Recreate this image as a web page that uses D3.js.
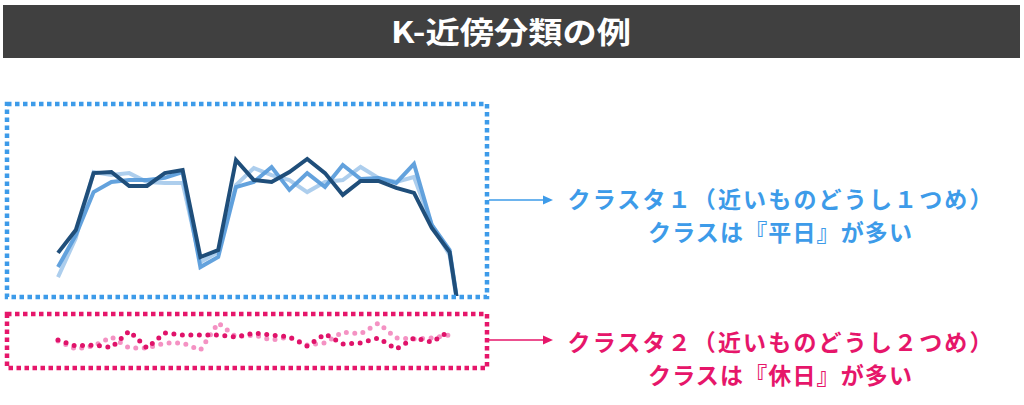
<!DOCTYPE html>
<html>
<head>
<meta charset="utf-8">
<title>K-近傍分類の例</title>
<script src="https://d3js.org/d3.v7.min.js"></script>
<style>
  body { margin: 0; background: #fff; }
  text { font-family: "Noto Sans CJK JP", "Noto Sans", sans-serif; font-weight: bold; }
</style>
</head>
<body>
<svg width="1024" height="405"></svg>
<script>
// 24 hourly points per day profile
var hours = d3.range(24);

// cluster 1 (weekday-like) - three profiles
var weekdayDark  = [52.8, 63.3, 89.4, 89.9, 83.5, 83.5, 89.4, 90.8, 50.9, 54.1, 95.4, 86.2, 85.3, 89.9, 95.9, 89.4, 79.4, 85.8, 85.8, 82.6, 80.3, 64.2, 53.2, 0];
var weekdayMid   = [46.3, 61.0, 80.7, 85.3, 86.2, 86.2, 87.2, 89.9, 46.3, 50.9, 83.0, 85.3, 92.2, 81.7, 89.4, 83.0, 93.1, 86.7, 87.2, 84.9, 93.6, 65.6, 54.1, 0];
var weekdayLight = [41.7, 59.6, 89.9, 88.5, 89.4, 85.3, 84.9, 84.9, 48.6, 53.2, 83.9, 91.7, 88.5, 86.2, 80.7, 85.3, 86.2, 92.2, 87.2, 85.3, 87.6, 65.6, 51.8, 0];

// cluster 2 (holiday-like) - two profiles, 23 points
var holidayDark  = [10, 7, 7.5, 6.2, 14.5, 6, 13.5, 12.5, 12.5, 12.5, 11.5, 13.5, 12.5, 11.5, 7, 13, 8, 8.5, 11, 5.5, 11, 9, 14.5];
var holidayLight = [9.5, 5.5, 7, 11.5, 6, 6, 8.5, 8.5, 5, 18.5, 11.5, 12.5, 10, 11.5, 7.5, 8.5, 14, 13, 18.5, 11, 10.5, 11, 12.5];

var title = "K-近傍分類の例";
var label1 = ["クラスタ１（近いものどうし１つめ）", "クラスは『平日』が多い"];
var label2 = ["クラスタ２（近いものどうし２つめ）", "クラスは『休日』が多い"];

var blue = "#3d9be9", pink = "#e6166a";

var svg = d3.select("svg");

// title bar
svg.append("rect")
    .attr("x", 3).attr("y", 5)
    .attr("width", 1017).attr("height", 53)
    .attr("fill", "#404040");
svg.append("text")
    .attr("x", 511).attr("y", 43)
    .attr("text-anchor", "middle")
    .attr("fill", "#fff")
    .style("font-size", "30px")
    .attr("textLength", 240).attr("lengthAdjust", "spacingAndGlyphs")
    .text(title);

var x = d3.scaleLinear().domain([0, 22]).range([58, 449.6]);
var yTop = d3.scaleLinear().domain([0, 100]).range([368, 150]);
var yBot = d3.scaleLinear().domain([0, 20]).range([360, 320]);

// clip for top lines
svg.append("clipPath").attr("id", "clipTop")
  .append("rect").attr("x", 8).attr("y", 106).attr("width", 478).attr("height", 190);

var lineTop = d3.line().x((d, i) => x(i)).y(d => yTop(d));
var gTop = svg.append("g").attr("clip-path", "url(#clipTop)");

[[weekdayLight, "#9fc6ea", 0.85], [weekdayMid, "#5b9ddb", 0.95], [weekdayDark, "#1f4e7a", 1]].forEach(function (s) {
  gTop.append("path")
      .attr("d", lineTop(s[0]))
      .attr("fill", "none")
      .attr("stroke", s[1])
      .attr("stroke-opacity", s[2])
      .attr("stroke-width", 4)
      .attr("stroke-linejoin", "miter");
});

// dotted lines for cluster 2
var lineBot = d3.line().x((d, i) => x(i)).y(d => yBot(d));
[[holidayLight, "#f27fb8", 0.85], [holidayDark, "#e0136a", 1]].forEach(function (s) {
  svg.append("path")
      .attr("d", lineBot(s[0]))
      .attr("fill", "none")
      .attr("stroke", s[1])
      .attr("stroke-opacity", s[2])
      .attr("stroke-width", 5)
      .attr("stroke-linecap", "round")
      .attr("stroke-dasharray", "0,8.5");
});

// dotted boxes
function box(y, h, color) {
  svg.append("rect")
      .attr("x", 7).attr("y", y)
      .attr("width", 480).attr("height", h)
      .attr("fill", "none")
      .attr("stroke", color)
      .attr("stroke-width", 4.5)
      .attr("stroke-dasharray", "4.5,3.5");
}
box(104, 193, blue);
box(314, 54, pink);

// arrows and labels
function arrow(y, color) {
  svg.append("line")
      .attr("x1", 489).attr("x2", 545)
      .attr("y1", y).attr("y2", y)
      .attr("stroke", color).attr("stroke-width", 1.5);
  svg.append("path")
      .attr("d", `M543,${y - 4.5}L553,${y}L543,${y + 4.5}Z`)
      .attr("fill", color);
}
function label(lines, y, color) {
  svg.append("text")
      .attr("x", 780).attr("y", y)
      .attr("text-anchor", "middle")
      .attr("fill", color)
      .style("font-size", "23px")
      .attr("textLength", 425).attr("lengthAdjust", "spacing")
      .text(lines[0]);
  svg.append("text")
      .attr("x", 780).attr("y", y + 33)
      .attr("text-anchor", "middle")
      .attr("fill", color)
      .style("font-size", "23px")
      .attr("textLength", 264).attr("lengthAdjust", "spacing")
      .text(lines[1]);
}
arrow(200, blue);
label(label1, 208, blue);
arrow(340, pink);
label(label2, 351, pink);
</script>
</body>
</html>
